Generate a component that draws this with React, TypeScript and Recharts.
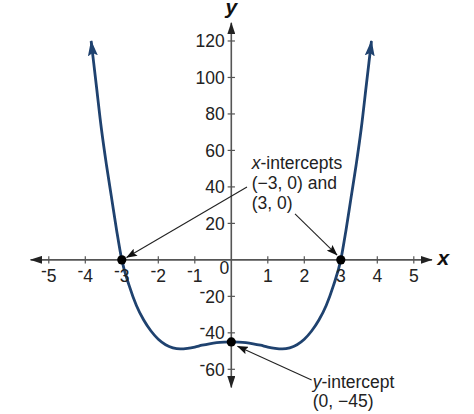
import React from 'react';
import { ComposedChart, Line, XAxis, YAxis, ReferenceLine, ReferenceDot } from 'recharts';

// Curve
const curveX = [-3.84, -3.7, -3.56, -3.42, -3.28, -3.14, -3.0, -2.8, -2.6, -2.4, -2.2, -2.0, -1.8, -1.6, -1.4, -1.2, -1.0, -0.8, -0.6, -0.4, -0.2, 0,
  0.2, 0.4, 0.6, 0.8, 1.0, 1.2, 1.4, 1.6, 1.8, 2.0, 2.2, 2.4, 2.6, 2.8, 3.0, 3.14, 3.28, 3.42, 3.56, 3.7, 3.84];
const curveY = [120, 96, 72, 52, 34, 16, 0, -14, -25, -33, -39, -43.5, -46.5, -48.2, -48.8, -48.5, -47.8, -46.8, -46, -45.4, -45.1, -45,
  -45.1, -45.4, -46, -46.8, -47.8, -48.5, -48.8, -48.2, -46.5, -43.5, -39, -33, -25, -14, 0, 16, 34, 52, 72, 96, 120];

const xTickValues = [-5, -4, -3, -2, -1, 1, 2, 3, 4, 5];
const yTickValues = [-60, -40, -20, 20, 40, 60, 80, 100, 120];
const interceptX = [-3, 3, 0];
const interceptY = [0, 0, -45];

const xDomain = [-6, 6];
const yDomain = [-80, 140];
const xAxisEnds = [-5.5, 5.5];
const yAxisEnds = [-70, 130];

// annotation arrows: [fromX, fromY, toX, toY]
const annotationArrows = [
  [0.43, 40, -2.87, 1.3],
  [1.745, 25.2, 2.9, 2.6],
  [2.2, -65.8, 0.17, -47.3],
];

const data = curveX.map((x, i) => ({ x, y: curveY[i] }));

const FONT = '"Liberation Sans", Arial, Helvetica, sans-serif';
const AXIS_COLOR = '#555555';
const CURVE_COLOR = '#1f426f';
const TEXT_COLOR = '#222222';
const FS = 17.5;

const center = (vb: any) => ({ cx: vb.x + vb.width / 2, cy: vb.y + vb.height / 2 });

const numberText = (v: number) =>
  v < 0 ? (
    <>
      <tspan dy={-5}>-</tspan>
      <tspan dy={5}>{Math.abs(v)}</tspan>
    </>
  ) : (
    <>{v}</>
  );

const xTickLabel = (v: number) => (props: any) => {
  const { cx, cy } = center(props.viewBox);
  return (
    <text x={cx} y={cy + 22.5} textAnchor="middle" fontFamily={FONT} fontSize={FS} fill={TEXT_COLOR}>
      {numberText(v)}
    </text>
  );
};

const yTickLabel = (v: number) => (props: any) => {
  const { cx, cy } = center(props.viewBox);
  return (
    <text x={cx - 6.5} y={cy + 6.2} textAnchor="end" fontFamily={FONT} fontSize={FS} fill={TEXT_COLOR}>
      {numberText(v)}
    </text>
  );
};

const zeroLabel = (props: any) => {
  const { cx, cy } = center(props.viewBox);
  return (
    <text x={cx - 2} y={cy + 14.5} textAnchor="end" fontFamily={FONT} fontSize={FS} fill={TEXT_COLOR}>
      0
    </text>
  );
};

const axisNameLabel = (name: string, dx: number, dy: number, anchor: string) => (props: any) => {
  const { cx, cy } = center(props.viewBox);
  return (
    <text x={cx + dx} y={cy + dy} textAnchor={anchor} fontFamily={FONT} fontSize={21} fontWeight="bold" fontStyle="italic" fill="#111">
      {name}
    </text>
  );
};

const xInterceptText = (props: any) => {
  const { cx, cy } = center(props.viewBox);
  return (
    <text x={cx} y={cy + 6.3} fontFamily={FONT} fontSize={FS} fill={TEXT_COLOR}>
      <tspan x={cx}>
        <tspan fontStyle="italic">x</tspan>-intercepts
      </tspan>
      <tspan x={cx} dy={20}>(−3, 0) and</tspan>
      <tspan x={cx} dy={20}>(3, 0)</tspan>
    </text>
  );
};

const yInterceptText = (props: any) => {
  const { cx, cy } = center(props.viewBox);
  return (
    <text x={cx} y={cy + 6.3} fontFamily={FONT} fontSize={FS} fill={TEXT_COLOR}>
      <tspan x={cx}>
        <tspan fontStyle="italic">y</tspan>-intercept
      </tspan>
      <tspan x={cx} dy={19}>(0, −45)</tspan>
    </text>
  );
};

const arrowShape = (marker: string, color: string, width: number) => (p: any) => (
  <line x1={p.x1} y1={p.y1} x2={p.x2} y2={p.y2} stroke={color} strokeWidth={width} markerEnd={`url(#${marker})`} />
);

const doubleArrowShape = (p: any) => (
  <line
    x1={p.x1}
    y1={p.y1}
    x2={p.x2}
    y2={p.y2}
    stroke={AXIS_COLOR}
    strokeWidth={1.6}
    markerStart="url(#axisArrow)"
    markerEnd="url(#axisArrow)"
  />
);

const tickShape = (p: any) => <line x1={p.x1} y1={p.y1} x2={p.x2} y2={p.y2} stroke={AXIS_COLOR} strokeWidth={1.2} />;

export default function App() {
  return (
    <div style={{ position: 'absolute', left: 0, top: 0, width: 474, height: 414, background: '#fff' }}>
      <svg width={0} height={0} style={{ position: 'absolute' }}>
        <defs>
          <marker id="axisArrow" markerUnits="userSpaceOnUse" markerWidth={12} markerHeight={8} viewBox="0 0 12 8" refX={11.5} refY={4} orient="auto-start-reverse">
            <path d="M0,0 L12,4 L0,8 z" fill="#222" />
          </marker>
          <marker id="noteArrow" markerUnits="userSpaceOnUse" markerWidth={11} markerHeight={8} viewBox="0 0 11 8" refX={10.5} refY={4} orient="auto">
            <path d="M0,0 L11,4 L0,8 L2,4 z" fill="#111" />
          </marker>
          <marker id="curveArrow" markerUnits="userSpaceOnUse" markerWidth={16} markerHeight={10} viewBox="0 0 16 10" refX={15} refY={5} orient="auto-start-reverse">
            <path d="M0,0 L16,5 L0,10 L3,5 z" fill={CURVE_COLOR} />
          </marker>
        </defs>
      </svg>
      <ComposedChart
        width={474}
        height={414}
        data={data}
        margin={{ top: 4.5, right: 23.7, bottom: 8.2, left: 12.3 }}
        style={{ fontFamily: FONT }}
      >
        <XAxis type="number" dataKey="x" domain={xDomain} hide allowDataOverflow />
        <YAxis type="number" domain={yDomain} hide allowDataOverflow />

        {/* axes */}
        <ReferenceLine segment={[{ x: xAxisEnds[0], y: 0 }, { x: xAxisEnds[1], y: 0 }]} shape={doubleArrowShape} />
        <ReferenceLine segment={[{ x: 0, y: yAxisEnds[0] }, { x: 0, y: yAxisEnds[1] }]} shape={doubleArrowShape} />

        {xTickValues.map((v) => (
          <ReferenceLine key={`xt${v}`} segment={[{ x: v, y: -2 }, { x: v, y: 2 }]} shape={tickShape} />
        ))}
        {yTickValues.map((v) => (
          <ReferenceLine key={`yt${v}`} segment={[{ x: -0.1, y: v }, { x: 0.1, y: v }]} shape={tickShape} />
        ))}
        {xTickValues.map((v) => (
          <ReferenceDot key={`xl${v}`} x={v} y={0} r={1} fill="none" stroke="none" label={xTickLabel(v)} />
        ))}
        {yTickValues.map((v) => (
          <ReferenceDot key={`yl${v}`} x={0} y={v} r={1} fill="none" stroke="none" label={yTickLabel(v)} />
        ))}
        <ReferenceDot x={0} y={0} r={1} fill="none" stroke="none" label={zeroLabel} />
        <ReferenceDot x={5.5} y={0} r={1} fill="none" stroke="none" label={axisNameLabel('x', 5.5, 5, 'start')} />
        <ReferenceDot x={0} y={130} r={1} fill="none" stroke="none" label={axisNameLabel('y', 0, -9, 'middle')} />

        <Line
          type="monotone"
          dataKey="y"
          stroke={CURVE_COLOR}
          strokeWidth={2.8}
          dot={false}
          activeDot={false}
          isAnimationActive={false}
          markerStart="url(#curveArrow)"
          markerEnd="url(#curveArrow)"
        />

        {annotationArrows.map((a, i) => (
          <ReferenceLine
            key={`aa${i}`}
            segment={[{ x: a[0], y: a[1] }, { x: a[2], y: a[3] }]}
            shape={arrowShape('noteArrow', '#222', 1.1)}
          />
        ))}

        {interceptX.map((x, i) => (
          <ReferenceDot key={`ip${i}`} x={x} y={interceptY[i]} r={4.6} fill="#000" stroke="none" />
        ))}

        <ReferenceDot x={0.56} y={53} r={1} fill="none" stroke="none" label={xInterceptText} />
        <ReferenceDot x={2.23} y={-66.8} r={1} fill="none" stroke="none" label={yInterceptText} />
      </ComposedChart>
    </div>
  );
}
